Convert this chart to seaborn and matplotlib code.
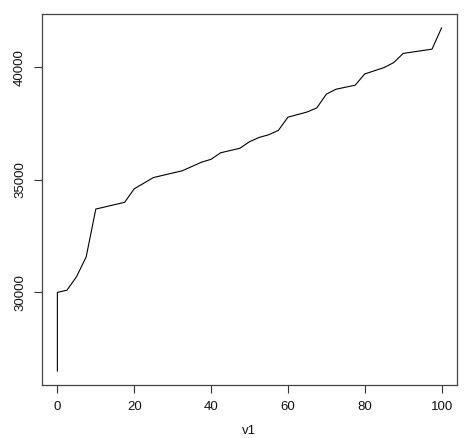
import matplotlib
matplotlib.use("Agg")
import matplotlib.pyplot as plt
import seaborn as sns
import pandas as pd

# values
v1 = [0, 0, 2.5, 5, 7.5, 10, 17.5, 20, 22.5, 25, 32.5, 37.5, 40, 42.5,
      47.5, 50, 52.5, 55, 57.5, 60, 65, 67.5, 70, 72.5, 77.5, 80, 85,
      87.5, 90, 97.5, 100]
value = [26500, 30000, 30100, 30700, 31580, 33700, 34000, 34600, 34850,
         35100, 35400, 35780, 35910, 36200, 36400, 36690, 36880, 37000,
         37190, 37780, 38010, 38190, 38800, 39020, 39200, 39700, 39980,
         40200, 40610, 40800, 41750]
x_ticks = [0, 20, 40, 60, 80, 100]
y_ticks = [30000, 35000, 40000]

df = pd.DataFrame({"v1": v1, "value": value})

sns.set_style("white")
plt.rcParams['font.family'] = ['Liberation Sans', 'DejaVu Sans']

fig = plt.figure(figsize=(4.74, 4.38), dpi=100)
ax = fig.add_axes([42 / 474, 53 / 438, 415 / 474, 371 / 438])

sns.lineplot(data=df, x="v1", y="value", ax=ax, estimator=None, sort=False,
             color="black", linewidth=0.8)

ax.set_xlim(-4, 104)
ax.set_ylim(25890, 42360)
ax.set_xticks(x_ticks)
ax.set_yticks(y_ticks)
ax.set_yticklabels([str(t) for t in y_ticks], rotation=90, va="center")
ax.tick_params(axis="both", direction="out", length=5.5, width=0.8,
               color="#333333", labelsize=9.5, labelcolor="#111111", pad=6)
ax.tick_params(axis="both", which="both", bottom=True, left=True)

for s in ax.spines.values():
    s.set_color("#444444")
    s.set_linewidth(0.9)

# R puts the axis title low, partly below the device edge; keep it readable
ax.set_xlabel("v1", fontsize=9.5, color="#111111", labelpad=9)
ax.set_ylabel("")

fig.savefig("out.png", dpi=100, facecolor="white")
